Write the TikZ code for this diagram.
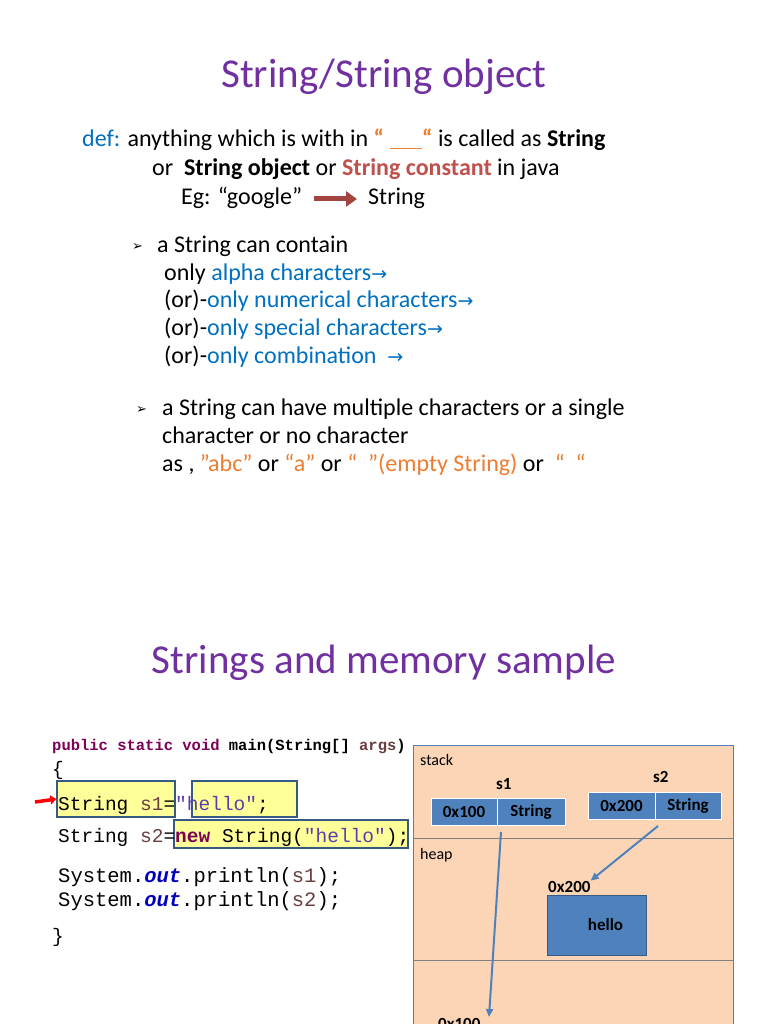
\documentclass[tikz,border=0pt]{standalone}
\usepackage{fontspec}
\setmainfont{Carlito}
\newfontfamily\dv{DejaVu Sans}
\newfontfamily\cm{Liberation Mono}
\newcommand\myrarr{{\dv\fontsize{19}{22}\selectfont →}}
\usetikzlibrary{arrows.meta}
\definecolor{ttl}{HTML}{7030A0}
\definecolor{bl}{HTML}{0070C0}
\definecolor{og}{HTML}{ED7D31}
\definecolor{rd}{HTML}{C0504D}
\definecolor{peach}{HTML}{FBD5B5}
\definecolor{mb}{HTML}{4F81BD}
\definecolor{kw}{HTML}{7F0055}
\definecolor{vr}{HTML}{6A3E3E}
\definecolor{st}{HTML}{5A3FA8}
\definecolor{hl}{HTML}{FFFF99}
\begin{document}
\begin{tikzpicture}[x=1pt,y=-1pt,
  t/.style={anchor=base west,inner sep=0pt,font=\fontsize{24}{28}\selectfont},
  ttlnode/.style={anchor=base,inner sep=0pt,text=ttl,font=\fontsize{41}{46}\selectfont},
  code/.style={anchor=base west,inner sep=0pt,font=\cm\fontsize{19.5}{24}\selectfont},
  hlbox/.style={draw=mb!70!black,fill=hl,line width=1.2pt},
  cell/.style={draw=white,fill=mb,line width=1pt,font=\bfseries\fontsize{17}{20}\selectfont,inner sep=0pt},
  lbl/.style={anchor=base west,inner sep=0pt,font=\fontsize{16}{19}\selectfont},
  blbl/.style={anchor=base west,inner sep=0pt,font=\bfseries\fontsize{17}{20}\selectfont},
  marr/.style={-{Triangle[length=8pt,width=7pt]},draw=mb,line width=2pt}]
\useasboundingbox (0,0) rectangle (768,1024);
\fill[white] (0,0) rectangle (768,1024);
\node[ttlnode] (t1) at (384,88) {String/String object};
\node[t] (d1) at (82,147) {\textcolor{bl}{def:} anything which is with in \textcolor{og}{\textbf{“ \underline{\ \ \ \ \ \ }“}} is called as \textbf{String}};
\node[t] (d2) at (152,176) {or\ \ \textbf{String object} or \textcolor{rd}{\textbf{String constant}} in java};
\node[t] (d3) at (181,205) {Eg: “google”};
\node[t] (d4) at (368,205) {String};
\coordinate (ga) at (314,199);
\coordinate (gb) at (357,199);
\draw[-{Triangle[length=11pt,width=15pt]},draw=rd!85!black,line width=5pt] (ga) -- (gb);
\node[t,font=\dv\fontsize{13}{14}\selectfont] (b1) at (132,250) {➢};
\node[t] (l1) at (157,252) {a String can contain};
\node[t] (l2) at (164,280) {only \textcolor{bl}{alpha characters\myrarr}};
\node[t] (l3) at (164,307) {(or)-\textcolor{bl}{only numerical characters\myrarr}};
\node[t] (l4) at (164,335) {(or)-\textcolor{bl}{only special characters\myrarr}};
\node[t] (l5) at (164,363) {(or)-\textcolor{bl}{only combination\ \ \myrarr}};
\node[t,font=\dv\fontsize{13}{14}\selectfont] (b2) at (136,413) {➢};
\node[t] (m1) at (162,415) {a String can have multiple characters or a single};
\node[t] (m2) at (162,443) {character or no character};
\node[t] (m3) at (162,471) {as , \textcolor{og}{”abc”} or \textcolor{og}{“a”} or \textcolor{og}{“\ \ ”(empty String)} or\ \ \textcolor{og}{“\ \ “}};
\node[ttlnode] (t2) at (384,673) {Strings and memory sample};
% code
\node[hlbox,minimum width=118pt,minimum height=36pt,inner sep=0pt] (h1) at (116,799) {};
\node[hlbox,minimum width=105pt,minimum height=36pt,inner sep=0pt] (h2) at (244.5,799) {};
\node[hlbox,minimum width=234pt,minimum height=28pt,inner sep=0pt] (h3) at (291,834) {};
\node[code,font=\cm\fontsize{15.5}{20}\selectfont\bfseries] (c0) at (52,750) {\textcolor{kw}{public static void} main(String[] \textcolor{vr}{args})};
\node[code] (c1) at (52,775) {\{};
\node[code] (c2) at (58,810) {String \textcolor{vr}{s1}=\textcolor{st}{"hello"};};
\node[code] (c3) at (58,842) {String \textcolor{vr}{s2}=\textbf{\textcolor{kw}{new}} String(\textcolor{st}{"hello"});};
\node[code,font=\cm\fontsize{20.5}{24}\selectfont] (c4) at (58,882) {System.\textcolor{blue!75!black}{\textbf{\textit{out}}}.println(\textcolor{vr}{s1});};
\node[code,font=\cm\fontsize{20.5}{24}\selectfont] (c5) at (58,906) {System.\textcolor{blue!75!black}{\textbf{\textit{out}}}.println(\textcolor{vr}{s2});};
\node[code] (c6) at (52,942) {\}};
\coordinate (ra) at (35,802);
\draw[-{Triangle[length=6pt,width=9pt]},draw=red,line width=3.5pt] (ra) -- (h1.west);
% memory
\draw[draw=mb,fill=peach,line width=1pt] (413,745) rectangle (733,1030);
\draw[gray,line width=1pt] (413,838) -- (733,838) (413,960) -- (733,960);
\node[lbl] (stk) at (420,765) {stack};
\node[lbl] (hp) at (420,859) {heap};
\node[blbl] (s1l) at (496,789) {s1};
\node[blbl] (s2l) at (653,782) {s2};
\node[cell,minimum width=66pt,minimum height=27pt] (a1) at (464,811.5) {0x100};
\node[cell,minimum width=68pt,minimum height=27pt] (a2) at (531,811.5) {String};
\node[cell,minimum width=67pt,minimum height=27pt] (b1c) at (621.5,805.5) {0x200};
\node[cell,minimum width=66pt,minimum height=27pt] (b2c) at (688,805.5) {String};
\node[blbl] (x2) at (548,892) {0x200};
\node[draw=mb!70!black,fill=mb,line width=1pt,minimum width=99pt,minimum height=60pt,inner sep=0pt,font=\bfseries\fontsize{17}{20}\selectfont] (hello) at (596.5,925) {\hspace{18pt}hello};
\node[blbl] (x1) at (438,1029) {0x100};
\coordinate (s2a) at (658,826);
\coordinate (s1a) at (501,832);
\draw[marr] (s2a) -- (x2.north east);
\draw[marr] (s1a) -- (489,1017);
\end{tikzpicture}
\end{document}
